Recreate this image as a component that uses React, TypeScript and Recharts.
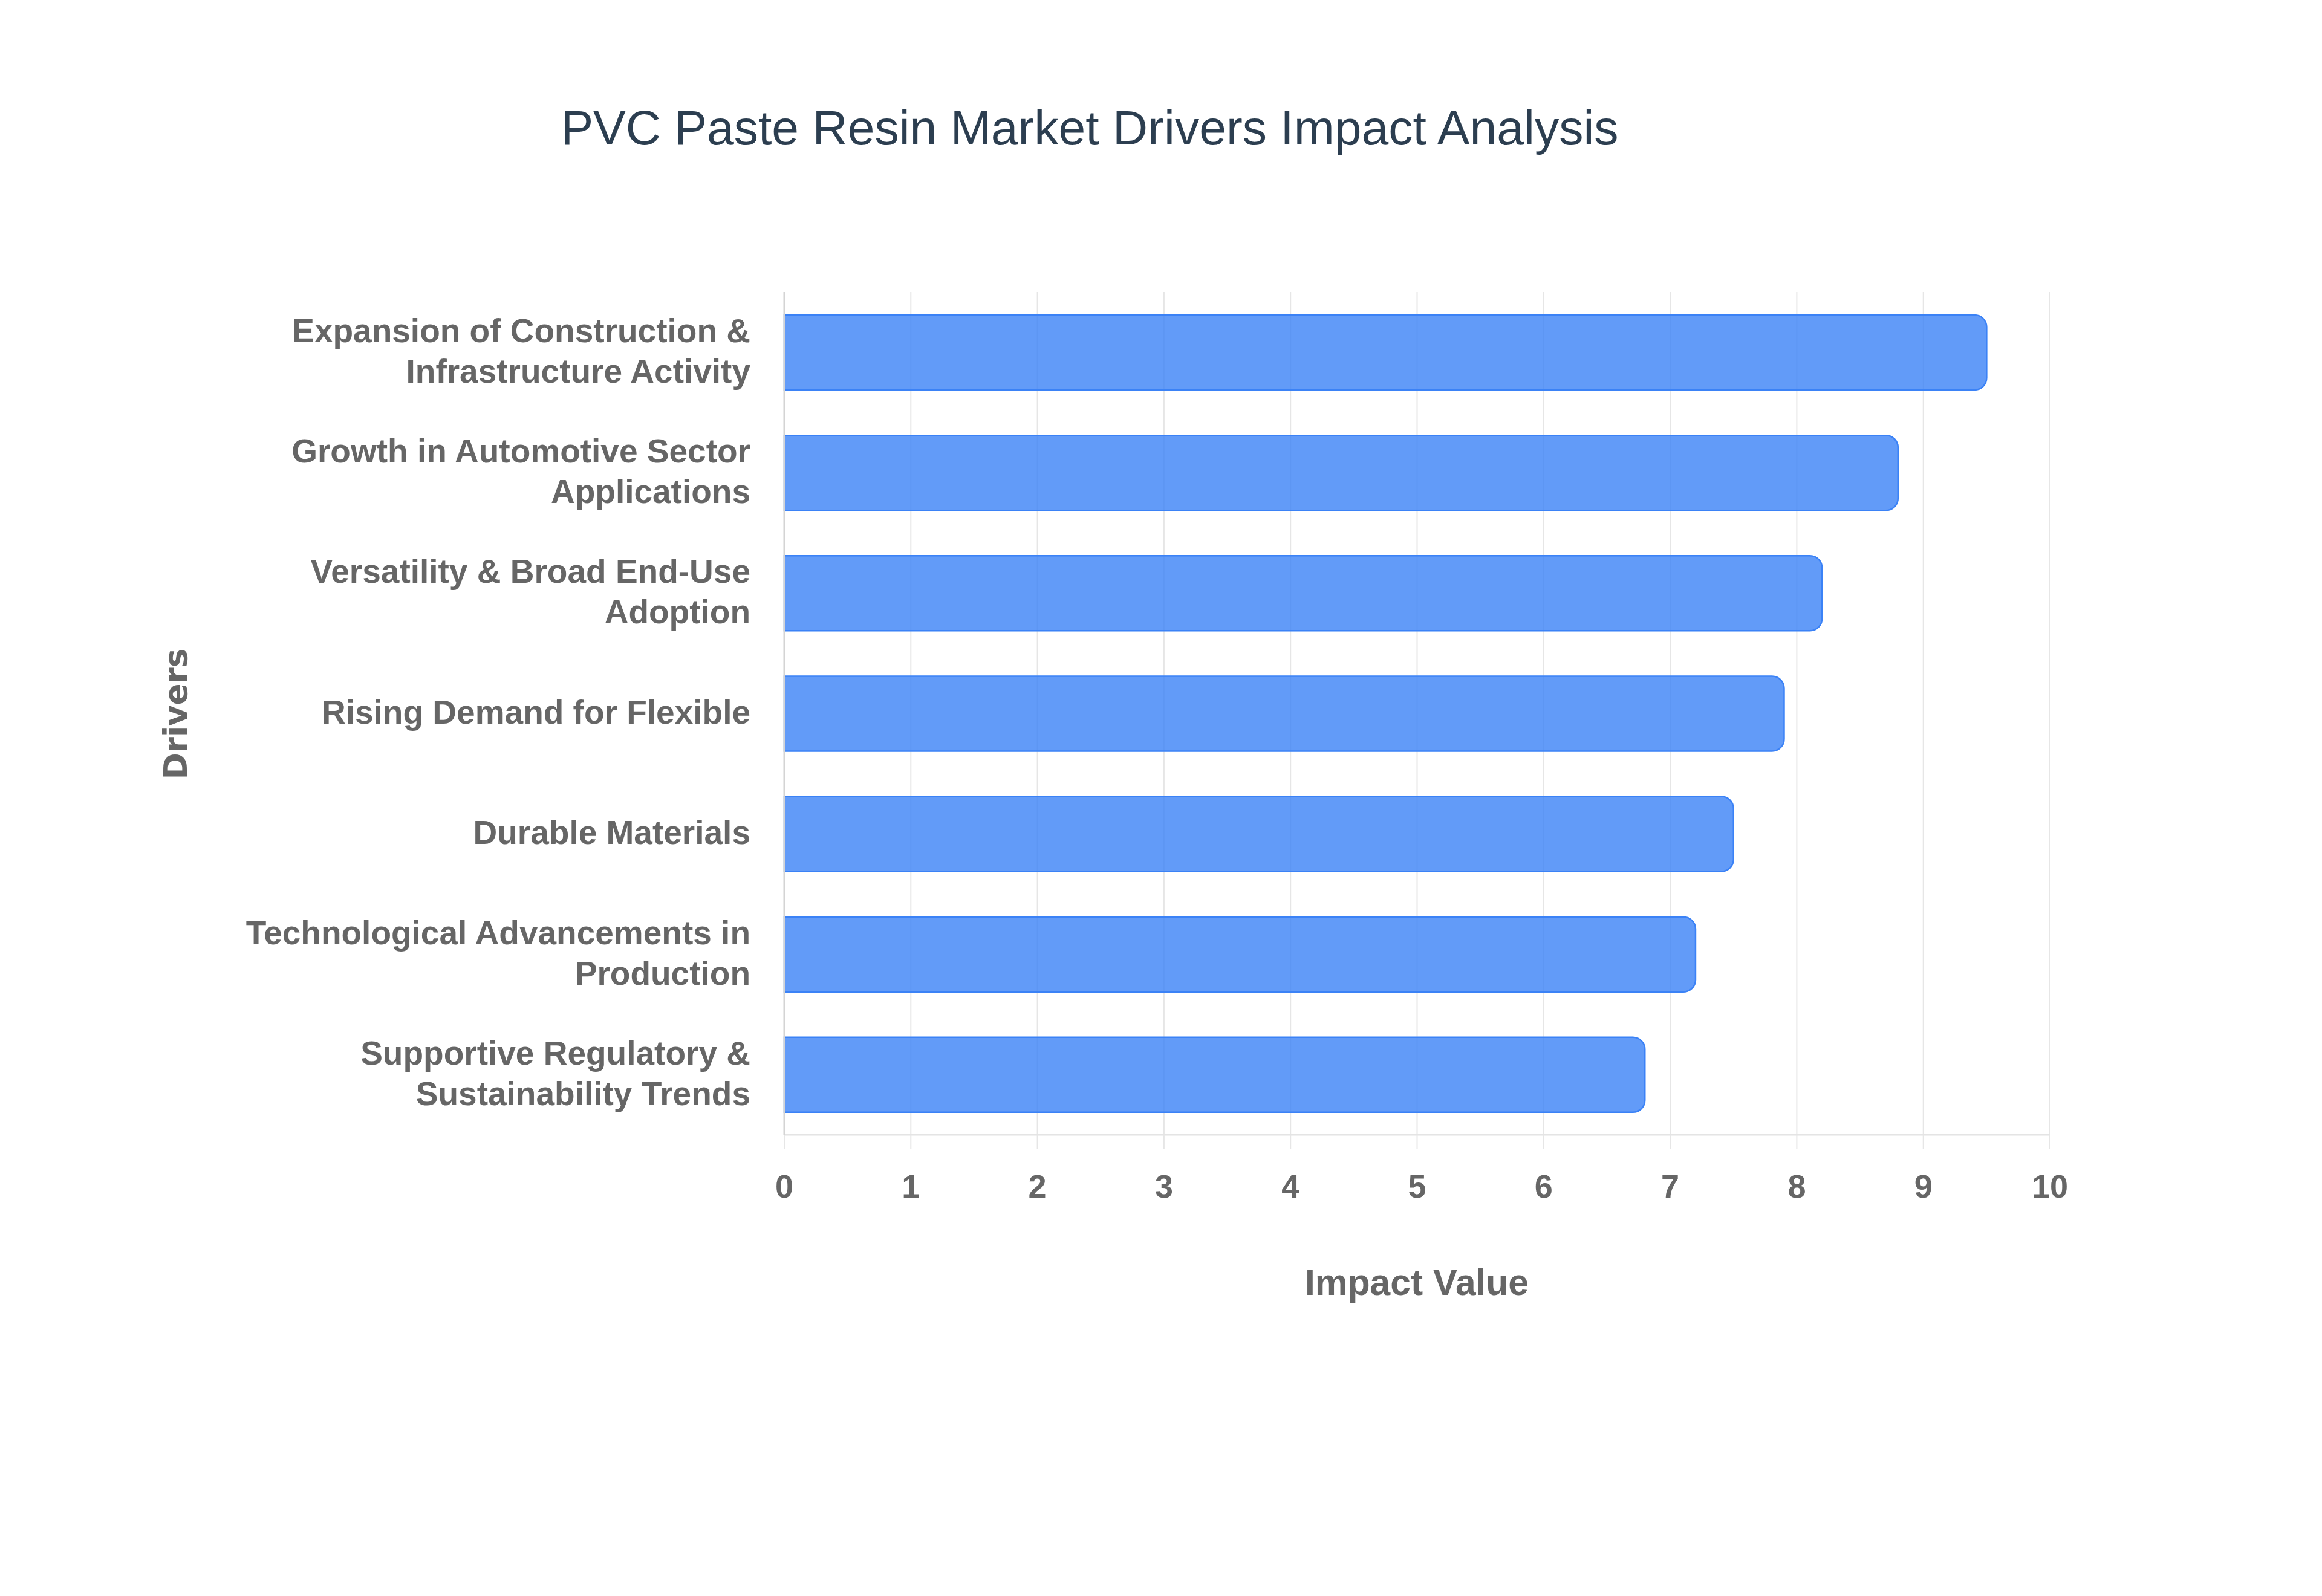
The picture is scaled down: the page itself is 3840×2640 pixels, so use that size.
import { Bar, BarChart, CartesianGrid, XAxis, YAxis } from "recharts"

const drivers = [
  "Expansion of Construction &\nInfrastructure Activity",
  "Growth in Automotive Sector\nApplications",
  "Versatility & Broad End-Use\nAdoption",
  "Rising Demand for Flexible",
  "Durable Materials",
  "Technological Advancements in\nProduction",
  "Supportive Regulatory &\nSustainability Trends",
]

const impact = [9.5, 8.8, 8.2, 7.9, 7.5, 7.2, 6.8]

const xTicks = [0, 1, 2, 3, 4, 5, 6, 7, 8, 9, 10]

const data = drivers.map((driver, i) => ({ driver, impact: impact[i] }))

const labelFont = "'Liberation Sans', Arial, Helvetica, sans-serif"

function DriverTick(props: any) {
  const { x, y, payload } = props
  const lines = String(payload.value).split("\n")
  const gap = 67
  const start = -((lines.length - 1) * gap) / 2
  return (
    <g>
      {lines.map((line, i) => (
        <text
          key={i}
          x={x}
          y={y + start + i * gap - 2}
          textAnchor="end"
          dominantBaseline="central"
          fontFamily={labelFont}
          fontWeight="bold"
          fontSize={55}
          fill="#666666"
        >
          {line}
        </text>
      ))}
    </g>
  )
}

export default function App() {
  return (
    <div style={{ position: "absolute", left: 0, top: 0, width: 3840, height: 2640, background: "#fff" }}>
      <div
        style={{
          position: "absolute",
          left: 1802,
          top: 171,
          transform: "translateX(-50%)",
          whiteSpace: "nowrap",
          fontFamily: labelFont,
          fontSize: 80.5,
          lineHeight: 1,
          color: "#2c3e50",
        }}
      >
        PVC Paste Resin Market Drivers Impact Analysis
      </div>
      <div
        style={{
          position: "absolute",
          left: 290,
          top: 1181,
          transform: "translate(-50%, -50%) rotate(-90deg)",
          whiteSpace: "nowrap",
          fontFamily: "'DejaVu Sans', sans-serif",
          fontWeight: "bold",
          fontSize: 53,
          lineHeight: 1,
          color: "#666666",
        }}
      >
        Drivers
      </div>
      <div
        style={{
          position: "absolute",
          left: 2343,
          top: 2091,
          transform: "translateX(-50%)",
          whiteSpace: "nowrap",
          fontFamily: labelFont,
          fontWeight: "bold",
          fontSize: 60.5,
          lineHeight: 1,
          color: "#666666",
        }}
      >
        Impact Value
      </div>
      <BarChart
        width={3840}
        height={2640}
        data={data}
        layout="vertical"
        margin={{ top: 483, right: 450, bottom: 663, left: 0 }}
      >
        <CartesianGrid horizontal={false} stroke="#e6e6e6" strokeWidth={2} />
        <XAxis
          type="number"
          domain={[0, 10]}
          ticks={xTicks}
          height={100}
          axisLine={{ stroke: "#e4e4e4", strokeWidth: 3 }}
          tickLine={{ stroke: "#e6e6e6", strokeWidth: 2 }}
          tickSize={23}
          tickMargin={43}
          tick={{ fontFamily: labelFont, fontWeight: "bold", fontSize: 54, fill: "#666666" }}
        />
        <YAxis
          type="category"
          dataKey="driver"
          width={1297}
          axisLine={{ stroke: "#d4d4d4", strokeWidth: 3 }}
          tickLine={false}
          tickSize={0}
          tickMargin={56}
          interval={0}
          tick={<DriverTick />}
        />
        <Bar
          dataKey="impact"
          barSize={124}
          fill="#3b82f6"
          fillOpacity={0.8}
          stroke="#3b82f6"
          strokeWidth={2.5}
          radius={[0, 20, 20, 0]}
          isAnimationActive={false}
        />
      </BarChart>
    </div>
  )
}
